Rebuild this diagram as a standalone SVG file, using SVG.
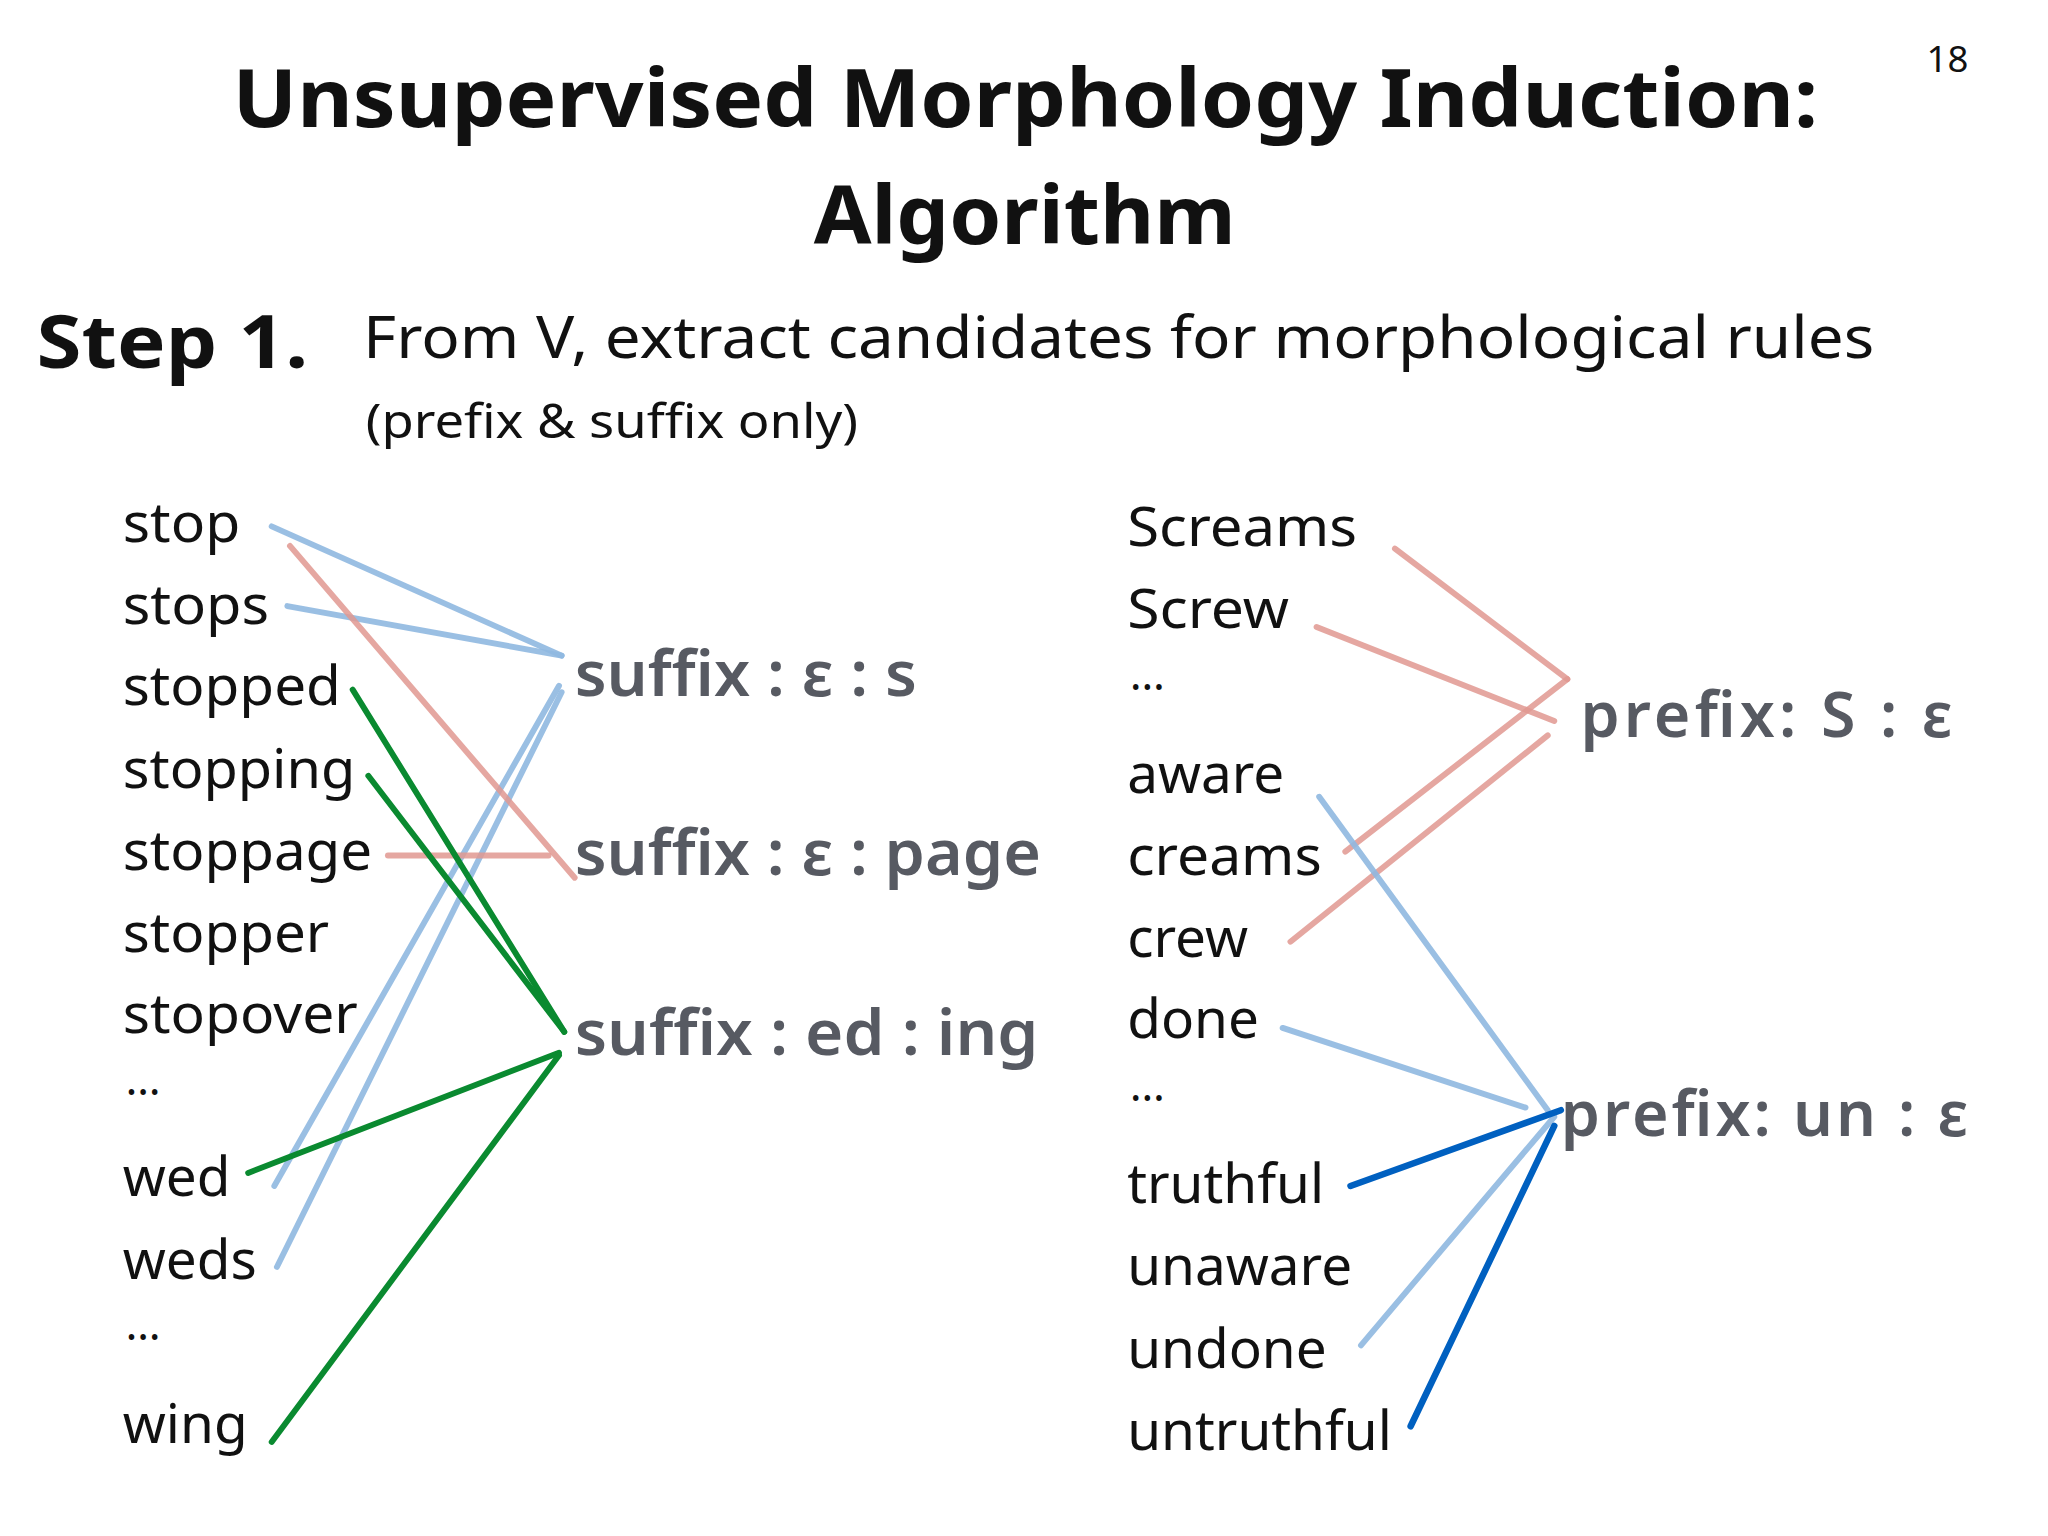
<svg xmlns="http://www.w3.org/2000/svg" width="2048" height="1536" viewBox="0 0 2048 1536">
<style>
text{font-family:"Noto Sans","Liberation Sans",sans-serif;fill:#111}
.w{font-size:42px}
.e{font-size:34px}
.r{font-size:48px;font-weight:600;fill:#575a62}
.lb{stroke:#8fb8e0;stroke-width:4.5;opacity:.9}
.lr{stroke:#e09890;stroke-width:4.5;opacity:.85}
.lg{stroke:#0a8a30;stroke-width:4.5}
.ld{stroke:#0060c0;stroke-width:5}
</style>
<rect width="2048" height="1536" fill="#fff"/>
<g transform="scale(1.30612)">
<g id="title">
<text x="178" y="97" font-size="62" font-weight="bold" textLength="1214" lengthAdjust="spacingAndGlyphs">Unsupervised Morphology Induction:</text>
<text x="623" y="187" font-size="62" font-weight="bold" textLength="323" lengthAdjust="spacingAndGlyphs">Algorithm</text>
<text x="1475" y="55" font-size="28" fill="#333">18</text>
<text x="28" y="282" font-size="56" font-weight="bold" textLength="208" lengthAdjust="spacingAndGlyphs">Step 1.</text>
<text x="278" y="274" font-size="45" textLength="1157" lengthAdjust="spacingAndGlyphs">From V, extract candidates for morphological rules</text>
<text x="280" y="335" font-size="36" textLength="377" lengthAdjust="spacingAndGlyphs">(prefix &amp; suffix only)</text>
</g>
<g id="connectors" fill="none" stroke-linecap="round">
<line class="lb" x1="208" y1="403" x2="430" y2="502"/>
<line class="lb" x1="220" y1="464" x2="430" y2="502"/>
<line class="lb" x1="210" y1="908" x2="428" y2="525"/>
<line class="lb" x1="212" y1="970" x2="430" y2="530"/>
<line class="lr" x1="222" y1="418" x2="440" y2="672"/>
<line class="lr" x1="297" y1="655" x2="420" y2="655"/>
<line class="lg" x1="270" y1="528" x2="432" y2="790"/>
<line class="lg" x1="282" y1="594" x2="432" y2="790"/>
<line class="lg" x1="190" y1="898" x2="428" y2="806"/>
<line class="lg" x1="208" y1="1104" x2="428" y2="808"/>
<line class="lr" x1="1068" y1="420" x2="1200" y2="520"/>
<line class="lr" x1="1008" y1="480" x2="1190" y2="552"/>
<line class="lr" x1="1200" y1="520" x2="1030" y2="652"/>
<line class="lr" x1="1185" y1="563" x2="988" y2="721"/>
<line class="lb" x1="1010" y1="610" x2="1185" y2="850"/>
<line class="lb" x1="982" y1="787" x2="1168" y2="848"/>
<line class="lb" x1="1042" y1="1030" x2="1190" y2="855"/>
<line class="ld" x1="1034" y1="908" x2="1195" y2="850"/>
<line class="ld" x1="1080" y1="1092" x2="1190" y2="862"/>
</g>
<g id="left-words">
<text class="w" x="94" y="415" textLength="90" lengthAdjust="spacingAndGlyphs">stop</text>
<text class="w" x="94" y="478" textLength="112" lengthAdjust="spacingAndGlyphs">stops</text>
<text class="w" x="94" y="540" textLength="167" lengthAdjust="spacingAndGlyphs">stopped</text>
<text class="w" x="94" y="603" textLength="178" lengthAdjust="spacingAndGlyphs">stopping</text>
<text class="w" x="94" y="666" textLength="191" lengthAdjust="spacingAndGlyphs">stoppage</text>
<text class="w" x="94" y="729" textLength="158" lengthAdjust="spacingAndGlyphs">stopper</text>
<text class="w" x="94" y="791" textLength="180" lengthAdjust="spacingAndGlyphs">stopover</text>
<text class="e" x="96" y="838">…</text>
<text class="w" x="94" y="916">wed</text>
<text class="w" x="94" y="979">weds</text>
<text class="e" x="96" y="1026">…</text>
<text class="w" x="94" y="1105">wing</text>
</g>
<g id="suffix-s"><text class="r" x="440" y="533" textLength="262" lengthAdjust="spacingAndGlyphs">suffix : ε : s</text></g>
<g id="suffix-page"><text class="r" x="440" y="670" textLength="357" lengthAdjust="spacingAndGlyphs">suffix : ε : page</text></g>
<g id="suffix-ed-ing"><text class="r" x="440" y="808" textLength="355" lengthAdjust="spacingAndGlyphs">suffix : ed : ing</text></g>
<g id="right-words">
<text class="w" x="863" y="418" textLength="176" lengthAdjust="spacingAndGlyphs">Screams</text>
<text class="w" x="863" y="481" textLength="124" lengthAdjust="spacingAndGlyphs">Screw</text>
<text class="e" x="865" y="528">…</text>
<text class="w" x="863" y="607">aware</text>
<text class="w" x="863" y="670" textLength="149" lengthAdjust="spacingAndGlyphs">creams</text>
<text class="w" x="863" y="733">crew</text>
<text class="w" x="863" y="795">done</text>
<text class="e" x="865" y="843">…</text>
<text class="w" x="863" y="921">truthful</text>
<text class="w" x="863" y="984">unaware</text>
<text class="w" x="863" y="1047">undone</text>
<text class="w" x="863" y="1110">untruthful</text>
</g>
<g id="prefix-S"><text class="r" x="1210" y="564" textLength="285" lengthAdjust="spacing">prefix: S :  ε</text></g>
<g id="prefix-un"><text class="r" x="1195" y="870" textLength="312" lengthAdjust="spacing">prefix: un :  ε</text></g>
</g>
</svg>
